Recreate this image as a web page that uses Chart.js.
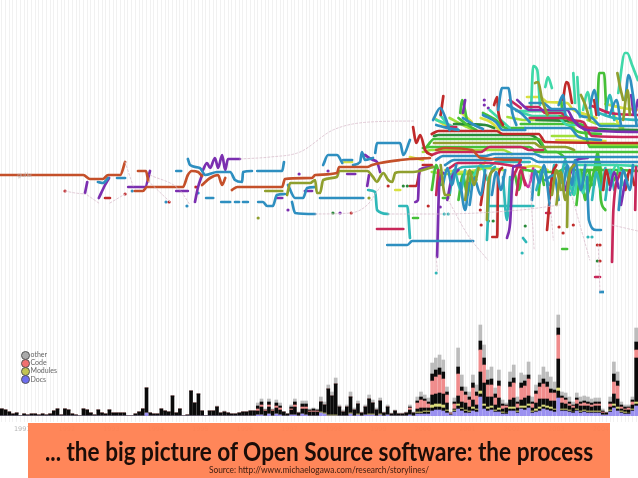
<!DOCTYPE html>
<html>
<head>
<meta charset="utf-8">
<title>Storylines</title>
<script src="https://cdn.jsdelivr.net/npm/chart.js@4"></script>
<style>
  body { margin: 0; background: #fff; width: 638px; height: 478px; overflow: hidden; position: relative; font-family: "Lato", sans-serif; }
  canvas { position: absolute; left: 0; top: 0; }
  #banner { position: absolute; left: 28px; top: 423px; width: 582px; height: 55px; background: rgba(255, 127, 80, 0.95); text-align: center; color: #1c0d08; }
  #banner h1 { position: absolute; left: -60px; right: -60px; top: 13px; margin: 0; font-size: 26px; line-height: 30px; font-weight: 700; white-space: nowrap; transform: scaleX(0.868); }
  #banner p { position: absolute; left: 0; right: 0; top: 39.5px; margin: 0; font-size: 9.5px; line-height: 13px; color: #3a1d12; transform: scaleX(0.88); }
  #legend { position: absolute; left: 21px; top: 350px; font-size: 7px; line-height: 8.2px; color: #666; }
  #legend i { display: inline-block; width: 7px; height: 7px; border-radius: 50%; border: 1px solid #555; margin-right: 0.5px; vertical-align: middle; box-sizing: content-box; }
  #legend div { height: 8.2px; white-space: nowrap; }
</style>
</head>
<body>
<canvas id="grafico" width="638" height="436"></canvas>
<div id="legend"></div>
<div id="banner">
  <h1>... the big picture of Open Source software: the process</h1>
  <p>Source: http://www.michaelogawa.com/research/storylines/</p>
</div>
<script>
// Time axis: decimal years, one bar per month from July 1990
const firstMonth = 1990.5;
const monthCount = 172;
const yearLabels = [1991, 1992, 1993, 1994, 1995, 1996, 1997, 1998, 1999, 2000, 2001, 2002, 2003, 2004];

// Monthly bars, one row per year (1990 has 6 months, 2004 has 10)
const docs = [
  0,0,0,0,0,0,
  0,0,0,0,0,0,0,0,0,0,0,0,
  0,0,0,0,0,0,0,0,0,0,0,0,
  0,0,0,0,0,0,0,0,0,3,0,0,
  0,0,0,0,0,0,0,0,0,0,0,0,
  0,0,0,0,0,0,0,0,0,0,0,0,
  0,0,0,1,1,0,2,0,2,1,0,0,
  1,1,0,2,1,0,0,0,3,2,0,0,
  0,0,0,0,2,0,1,0,1,1,1,0,
  1,0,1,0,0,0,0,0,1,0,2,2,
  2,2,5,6,6,5,3,1,4,7,5,3,
  3,5,4,19,7,5,6,4,4,2,2,5,
  5,3,7,6,8,3,4,5,7,6,5,4,
  18,5,5,4,3,5,3,4,3,3,3,3,
  1,1,4,8,5,3,2,2,5,10
];
const blackLow = [
  0,0,0,0,0,0,
  0,0,0,0,0,0,0,0,0,0,0,0,
  0,0,0,0,0,0,0,0,0,0,0,0,
  0,0,0,0,0,0,0,0,0,0,0,0,
  0,0,0,0,0,0,0,0,0,0,0,0,
  0,0,0,0,0,0,0,0,0,0,0,0,
  0,0,0,0,0,0,0,0,0,0,0,0,
  0,0,0,0,0,0,0,0,0,0,0,0,
  0,0,0,0,0,0,0,0,0,0,0,0,
  0,0,0,0,0,0,0,0,0,0,1,1,
  2,2,3,3,3,3,2,0,1,3,2,2,
  1,2,2,3,3,2,2,1,2,1,1,2,
  2,1,1,2,2,1,1,2,2,2,2,2,
  7,1,1,1,1,1,1,1,1,1,1,1,
  0,0,1,2,2,1,1,1,1,2
];
const modules = [
  0,0,0,0,0,0,
  0,0,0,0,0,0,0,0,0,0,0,0,
  0,0,0,0,0,0,0,0,0,0,0,0,
  0,0,0,0,0,0,0,0,0,0,0,0,
  0,0,0,0,0,0,0,0,0,0,0,0,
  0,0,0,0,0,0,0,0,0,0,0,0,
  0,0,0,0,0,0,0,0,0,0,0,0,
  0,0,0,0,0,0,0,0,1,1,1,1,
  1,0,0,0,1,0,1,0,0,1,1,0,
  1,0,0,0,0,0,0,0,0,0,1,1,
  1,1,3,3,3,3,1,0,1,2,1,1,
  1,2,1,3,2,2,2,1,2,1,0,2,
  2,1,2,2,2,1,2,2,2,2,2,1,
  3,1,1,1,0,1,1,1,1,1,1,1,
  0,0,1,2,2,1,1,0,1,2
];
const blackMid = [
  7,6,4,2,3,0,
  2,1,2,2,1,2,1,2,5,7,1,7,
  6,2,1,0,7,6,3,1,6,3,2,6,
  3,3,3,3,0,0,2,4,7,25,3,2,
  2,7,5,4,20,3,7,0,1,25,13,22,
  5,0,5,5,9,3,4,3,2,2,3,4,
  4,5,5,4,8,5,7,5,6,5,4,2,
  5,8,3,5,6,4,4,4,10,8,26,19,
  31,9,4,9,16,6,10,3,8,15,11,6,
  13,3,8,2,5,2,2,3,5,3,3,4,
  3,3,10,10,11,11,7,1,1,8,6,7,
  4,7,4,19,21,10,9,5,10,3,5,7,
  9,3,6,8,8,3,6,8,6,7,6,8,
  29,6,5,4,4,5,5,4,5,4,5,5,
  2,2,3,10,8,2,2,3,4,44
];
const code = [
  0,0,0,0,0,0,
  0,0,0,0,0,0,0,0,0,0,0,0,
  0,0,0,0,0,0,0,0,0,0,0,0,
  0,0,0,0,0,0,0,0,0,0,0,0,
  0,0,0,0,0,0,0,0,0,0,0,0,
  0,0,0,0,0,0,0,0,0,0,0,0,
  0,0,0,2,2,1,2,1,2,2,0,0,
  1,2,0,2,2,1,1,1,0,0,0,0,
  0,0,0,0,0,0,0,0,0,0,0,0,
  0,0,0,0,0,0,0,0,2,0,6,8,
  7,4,14,17,18,15,8,1,5,22,11,8,
  7,12,9,22,18,12,12,7,12,3,2,13,
  15,4,12,12,17,4,9,12,15,12,8,8,
  24,5,4,2,2,4,2,3,2,2,2,2,
  1,0,3,12,13,2,1,2,3,8
];
const blackTop = [
  0,0,0,0,0,0,
  0,0,0,0,0,0,0,0,0,0,0,0,
  0,0,0,0,0,0,0,0,0,0,0,0,
  0,0,0,0,0,0,0,0,0,0,0,0,
  0,0,0,0,0,0,0,0,0,0,0,0,
  0,0,0,0,0,0,0,0,0,0,0,0,
  0,0,0,3,3,0,3,0,3,2,0,0,
  2,3,0,3,3,1,2,1,0,0,0,0,
  0,0,0,0,0,0,0,0,0,0,0,0,
  0,0,0,0,0,0,0,0,1,0,2,3,
  2,2,7,7,7,7,3,0,2,7,4,3,
  3,5,4,9,7,5,6,4,5,2,1,5,
  5,2,5,5,4,2,3,4,5,5,4,3,
  7,2,2,2,1,2,2,2,2,2,2,2,
  1,0,2,8,5,2,2,1,2,8
];
const other = [
  0,0,0,0,0,0,
  0,0,0,0,0,0,0,0,0,0,0,0,
  0,0,0,0,0,0,0,0,0,0,0,0,
  0,0,0,0,0,0,0,0,0,0,0,0,
  0,0,0,0,0,0,0,0,0,0,0,0,
  0,0,0,0,1,0,1,0,0,0,0,0,
  0,0,0,3,3,1,3,1,3,3,0,0,
  2,3,1,3,3,1,1,1,5,3,4,4,
  6,2,2,2,5,2,3,1,2,4,3,2,
  3,1,2,1,1,1,1,1,2,1,4,5,
  4,4,11,12,13,12,5,1,4,19,12,5,
  5,8,7,16,13,10,12,6,11,4,2,10,
  13,5,10,6,13,5,6,8,12,10,12,8,
  13,4,5,5,3,5,5,5,5,4,4,4,
  2,1,5,12,9,3,2,2,3,14
];
const legendNames = ['other', 'Code', 'Modules', 'Docs'];

// Storylines: each line is year, rank, year, rank...
const orangeLines = [
  [1990.5,175, 1992.37,175, 1992.52,179, 1992.81,179, 1992.93,175, 1993.2,175, 1993.31,162],
  [1993.6,171, 1993.78,171, 1993.83,181],
  [1993.53,191, 1993.71,191, 1993.8,187, 1994.61,187, 1994.72,175, 1994.81,171, 1994.95,172, 1995.04,176],
  [1995.04,185, 1995.22,178, 1995.4,175, 1995.49,185, 1995.56,178],
  [1995.71,190, 1995.83,187, 1996.84,187, 1996.9,179, 1997.51,178, 1997.58,175, 1998.07,173, 1998.12,167, 1998.75,167, 1998.86,165, 1999.04,163, 1999.49,160, 1999.71,159, 2000.16,158],
  [2000.3,150, 2000.5,148, 2001.1,150, 2001.3,158, 2002.2,160]
];
const oliveLines = [
  [1996.46,191, 1996.84,191],
  [1996.95,195, 1997.02,183, 1997.47,183, 1997.58,180, 1997.62,193, 1997.69,193, 1997.76,180, 1998.07,177, 1998.12,171, 1998.75,171, 1998.88,177, 1998.97,182, 1999.04,177, 1999.11,173, 1999.22,180, 1999.31,182, 1999.38,173, 1999.49,172, 1999.78,172, 2000.23,167],
  [2002.52,83, 2002.59,82, 2002.68,100, 2002.8,115],
  [2004.37,73, 2004.43,87, 2004.5,100],
  [2004.5,120, 2004.6,90, 2004.65,115],
  [2000.4,165, 2000.5,195, 2000.6,195],
  [2001.44,220, 2001.47,183, 2001.6,170],
  [2003.24,227, 2003.26,183, 2003.4,165],
  [2000.25,143, 2002.5,143, 2002.65,147, 2003.2,147, 2003.4,150],
  [2000.95,200, 2001.05,170, 2001.15,185, 2001.25,168],
  [2002.9,195, 2003.0,170, 2003.1,190],
  [2003.55,95, 2003.65,105, 2003.75,120],
  [2003.0,205, 2003.1,172, 2003.2,200, 2003.3,175]
];
const blueLines = [
  [1992.7,182, 1992.81,183, 1992.93,178],
  [1993.13,178, 1993.31,178],
  [1994.46,171, 1994.57,171],
  [1994.72,159, 1994.77,165, 1994.99,168, 1995.11,175, 1995.38,172, 1995.67,172, 1995.78,180, 1995.94,182, 1995.96,172, 1996.16,171],
  [1996.28,171, 1996.84,171, 1996.88,162],
  [1995.13,198, 1995.29,198],
  [1995.47,202, 1995.67,202],
  [1995.78,202, 1995.87,202],
  [1995.96,202, 1996.07,202],
  [1996.3,202, 1996.41,202, 1996.5,206, 1996.63,206, 1996.72,195, 1996.9,194],
  [1997.06,202, 1997.13,213, 1997.58,214],
  [1996.97,185, 1997.13,198, 1997.31,198, 1997.4,188, 1997.58,187],
  [1997.76,165, 1997.87,155, 1998.07,155, 1998.19,163],
  [1998.21,160, 1998.41,160],
  [1998.43,165, 1998.59,162, 1998.63,152, 1998.7,160, 1998.88,158],
  [1998.93,153, 1998.97,143, 1999.49,143, 1999.56,155, 1999.71,140],
  [1997.69,198, 1998.66,198],
  [1999.2,245, 1999.65,245, 1999.76,241, 2001.13,241],
  [2001.69,110, 2001.78,88, 2001.92,88, 2002.01,113, 2002.1,125],
  [2000.23,120, 2000.39,108, 2000.5,117, 2000.6,130],
  [2003.15,190, 2003.25,165, 2003.35,185, 2003.42,160, 2003.55,190, 2003.65,165],
  [2002.45,200, 2002.52,170, 2002.62,183, 2002.72,165, 2002.85,205],
  [2002.75,180, 2002.95,175, 2003.05,200],
  [2004.4,210, 2004.5,170, 2004.65,190, 2004.72,165],
  [2001.05,205, 2001.15,178, 2001.3,195, 2001.4,170],
  [2000.84,183, 2000.95,210, 2001.03,183],
  [2003.69,177, 2003.73,220, 2003.9,230, 2004.0,230],
  [2004.55,100, 2004.62,75, 2004.72,95, 2004.8,125],
  [2004.2,115, 2004.35,100, 2004.45,125],
  [2003.05,105, 2003.15,95, 2003.2,115],
  [2000.3,160, 2000.45,156, 2001.4,156, 2001.6,154, 2002.5,154, 2002.7,157, 2004.83,157],
  [2000.5,165, 2000.7,160, 2001.5,160, 2001.65,158, 2002.4,158, 2002.6,162, 2004.83,162],
  [2002.4,103, 2002.7,103, 2002.9,109, 2003.4,109, 2003.55,116, 2003.8,118, 2004,126, 2004.83,126],
  [2001.35,115, 2001.64,122, 2001.8,130, 2002.3,130],
  [2000.3,125, 2000.55,128, 2000.8,130],
  [2000.9,118, 2001.2,126, 2001.35,129],
  [2000.45,185, 2000.55,168, 2000.65,185, 2000.75,165],
  [2001.55,195, 2001.65,172, 2001.75,190, 2001.85,170],
  [2003.75,108, 2003.85,90, 2003.95,115],
  [2002.3,128, 2003.3,128, 2003.5,137, 2004.0,140],
  [2001.9,105, 2002.2,113, 2002.4,122]
];
const purpleLines = [
  [1992.41,193, 1992.46,182],
  [1992.72,198, 1992.86,185, 1992.95,178],
  [1993.38,187, 1993.76,187, 1993.87,171],
  [1994.46,191, 1994.72,191],
  [1994.88,202, 1994.95,187, 1995.04,175],
  [1995.06,170, 1995.15,163, 1995.22,168, 1995.33,158, 1995.4,168, 1995.49,155, 1995.56,170, 1995.62,159, 1995.89,159],
  [1997.35,191, 1997.51,191],
  [1996.72,198, 1996.84,198],
  [1998.7,155, 1998.88,160, 1998.97,162, 1999.04,172],
  [1998.3,174, 1998.48,174],
  [1998.75,186, 1998.79,175],
  [2000.32,257, 2000.37,183, 2000.46,173],
  [2001.89,238, 2001.96,223, 2002.03,167, 2002.2,165],
  [2000.9,113, 2000.95,100],
  [2002.12,100, 2002.41,110, 2003.24,110, 2003.38,120, 2003.69,130, 2004.83,132],
  [2004.68,95, 2004.75,115, 2004.83,100],
  [2003.2,190, 2003.3,175, 2003.45,160, 2003.7,158],
  [1999.83,202, 1999.89,200, 1999.92,170, 2000.23,167],
  [2000.55,200, 2000.65,178, 2000.8,170],
  [2004.2,190, 2004.3,172, 2004.4,188],
  [2004.45,205, 2004.55,180]
];
const redLines = [
  [1992.86,198, 1992.97,198],
  [1999.78,127, 1999.85,143, 1999.94,135, 2000.05,150, 2000.2,155],
  [2000.4,115, 2000.46,96],
  [2001.6,105, 2001.67,97, 2001.69,110, 2001.8,125],
  [2003.15,100, 2003.22,82, 2003.26,83, 2003.35,103],
  [2001.56,237, 2001.67,237, 2001.69,177, 2001.78,168],
  [2002.79,230, 2002.9,177, 2003,165],
  [2000.2,134, 2000.35,131, 2001.65,131, 2001.8,134, 2002.6,134, 2002.75,142, 2004.83,143],
  [2004.05,190, 2004.12,170, 2004.2,185],
  [2001.3,205, 2001.4,175],
  [2003.85,100, 2003.9,115],
  [1999.71,186, 1999.85,186, 1999.94,170, 2000.09,168],
  [2000.0,165, 2000.2,165],
  [2004.55,190, 2004.65,170, 2004.75,185]
];
const crimsonLines = [
  [1998.97,229, 1999.56,229],
  [2004.25,262, 2004.28,210, 2004.43,173],
  [2004.77,210, 2004.79,167],
  [2002.77,213, 2002.86,213],
  [2003.87,277, 2003.98,277],
  [2000.2,155, 2000.4,152, 2001.3,152, 2001.5,147, 2002.2,147, 2002.4,150, 2002.7,150],
  [2000.6,168, 2000.8,163, 2001.5,163, 2002.3,168],
  [2002.3,107, 2002.6,107, 2002.75,113, 2003.1,113, 2003.3,120, 2003.6,122, 2003.8,136, 2004.83,137],
  [2000.3,195, 2000.35,170],
  [2002.0,180, 2002.1,170, 2002.2,160],
  [2002.4,118, 2003.3,118, 2003.55,127, 2003.9,128],
  [2000.5,127, 2000.75,127],
  [2001.95,100, 2002.2,108],
  [2003.8,106, 2004.2,113, 2004.83,115],
  [2002.1,195, 2002.2,170, 2002.3,185]
];
const tealLines = [
  [1998.77,190, 1998.93,192, 1998.97,210, 1999.22,214],
  [1999.47,206, 1999.65,206, 1999.71,238],
  [2001.47,206, 2002.48,206],
  [2001.44,240, 2001.51,177, 2001.62,167],
  [2001.8,177, 2001.89,220, 2001.96,177],
  [2003.1,183, 2003.2,160, 2003.32,195, 2003.45,172],
  [2000.6,195, 2000.7,170, 2000.85,190, 2000.95,170],
  [2000.7,172, 2000.9,167, 2001.5,166, 2001.65,162, 2002.4,162],
  [2002.25,238, 2002.32,242],
  [2002.55,190, 2002.7,170, 2002.85,185, 2002.95,165],
  [2004.1,200, 2004.2,170, 2004.3,190],
  [2004.1,115, 2004.2,95, 2004.3,120],
  [2003.8,200, 2003.9,172, 2004.0,190, 2004.1,168],
  [2003.9,112, 2004.3,118, 2004.83,120]
];
const mintLines = [
  [2002.43,110, 2002.48,66, 2002.57,70, 2002.63,105],
  [2002.75,87, 2002.81,77, 2002.9,88],
  [2003.38,73, 2003.42,103],
  [2003.47,77, 2003.49,93, 2003.53,117],
  [2004.39,93, 2004.54,53, 2004.59,53, 2004.7,65, 2004.83,80],
  [2000.39,115, 2000.62,128],
  [2004.2,180, 2004.35,165, 2004.5,185],
  [2002.2,112, 2002.5,116, 2003.0,116, 2003.25,125, 2003.5,125],
  [2003.5,165, 2003.9,165, 2004.3,165, 2004.83,166],
  [2000.3,120, 2000.6,125, 2000.8,130],
  [2001.5,110, 2001.8,122, 2001.95,128],
  [2001.15,175, 2001.3,165, 2001.45,180],
  [2003.6,110, 2003.7,92, 2003.8,118],
  [2002.1,111, 2003.1,111, 2003.3,120],
  [2003.25,175, 2003.4,195, 2003.5,170, 2003.6,193, 2003.7,175]
];
const greenLines = [
  [2003.92,110, 2003.96,73, 2004.07,73, 2004.12,110],
  [2000.84,113, 2000.88,100, 2000.99,120],
  [2000.8,200, 2000.9,175, 2001.0,195, 2001.1,172, 2001.2,180],
  [2003.7,195, 2003.85,170, 2003.93,152, 2004.0,200, 2004.1,210],
  [2003.85,185, 2003.95,160, 2004.05,190],
  [2000.1,146, 2000.25,139, 2002.6,139, 2002.8,152, 2004.83,152],
  [2000.0,148, 2000.15,147, 2002.4,147, 2002.55,152, 2003,152, 2003.2,158],
  [2001.35,113, 2001.64,120, 2001.87,128, 2002.3,128],
  [2002.3,111, 2002.7,111, 2002.85,116, 2003.2,116, 2003.4,124, 2003.6,125, 2003.75,147, 2004.83,147],
  [1999.78,218, 1999.89,218],
  [2000.45,198, 2000.57,198],
  [2003.13,249, 2003.24,249],
  [2002.6,195, 2002.65,170, 2002.72,185],
  [2000.8,118, 2001.0,125, 2001.2,130],
  [2000.2,190, 2000.3,165, 2000.4,185],
  [2001.95,200, 2002.05,172, 2002.15,190, 2002.25,168],
  [2002.3,170, 2002.7,172, 2003.0,172, 2003.2,168],
  [2003.55,190, 2003.7,170, 2003.8,185],
  [2004.3,180, 2004.45,168, 2004.6,180],
  [2003.1,100, 2003.15,115],
  [2002.2,124, 2003.2,124, 2003.5,132, 2004.0,134],
  [2003.3,170, 2003.9,170, 2004.4,170, 2004.83,171],
  [2003.45,205, 2003.55,170, 2003.65,200, 2003.75,172]
];
const darkGreenLines = [
  [2000.25,136, 2000.35,135, 2002.4,135, 2002.55,138, 2002.7,147],
  [2002.55,120, 2003.4,122, 2003.69,128, 2004.83,130],
  [2000.7,124, 2001.4,125, 2001.6,128]
];
const limeLines = [
  [2000.2,172, 2000.6,174, 2001,174, 2001.4,168, 2001.8,170],
  [2000.0,152, 2000.2,150, 2001.8,150, 2002.0,154],
  [2002.9,136, 2003.5,136, 2003.8,145, 2004.83,145],
  [2001.9,117, 2002.3,120, 2003.2,120, 2003.4,128],
  [2000.6,118, 2000.9,125, 2001.1,129],
  [2003.7,120, 2003.95,124, 2004.3,124, 2004.5,128]
];
const yellowLines = [
  [1999.38,190, 1999.49,190],
  [1998.21,162, 1998.41,162],
  [2002.34,97, 2002.63,97, 2002.79,102, 2003.24,103, 2003.38,110, 2003.69,115],
  [2001.3,118, 2001.52,122, 2001.72,130],
  [2000.5,170, 2000.8,172, 2001.2,170, 2001.4,162],
  [2004.25,110, 2004.45,130],
  [2003.0,140, 2003.6,141, 2004.1,141],
  [1999.71,157, 2000.0,160],
  [2000.25,118, 2000.6,128],
  [2000.85,112, 2001.1,122],
  [2002.2,168, 2002.5,166, 2002.8,170],
  [2003.5,112, 2003.9,118],
  [2004.1,104, 2004.5,108, 2004.83,110]
];
const magentaLines = [
  [2002.25,178, 2002.37,187, 2002.48,168]
];

// Isolated commits shown as dots: year, rank, year, rank...
const redDots = [1991.96,191, 1993.31,194, 1994.3,202, 1994.9,187, 1998.39,213, 1999.22,186, 2000.12,206, 2001.29,210, 2001.31,225, 2003.38,225, 2003.15,233, 2003.06,227, 2003.92,245, 2003.98,245, 2003.98,261];
const purpleDots = [1997.22,174, 1996.97,210, 1997.87,171, 1998.14,213, 2000.39,207, 2001.38,100, 2001.38,105, 2001.47,108];
const blueDots = [1993.47,191, 1994.7,206, 1994.23,202, 1994.95,193];
const tealDots = [2000.3,273, 2000.48,214, 2000.57,214, 2002.23,253, 2003.71,237, 2003.8,237];
const greenDots = [1997.98,213, 1999.56,186, 1999.65,186, 2001.47,221, 2001.58,221, 2002.3,226, 2002.14,187, 2003.92,261];
const oliveDots = [1996.3,218, 1998.79,198];
const blueSegment = [2003.96,292, 2004.07,292];

// Thin dashed links between the pieces of a story
const links = [
  [1995.89,159, 1996.57,157, 1997.24,152, 1997.98,130, 1998.81,122, 1999.83,121],
  [1991.96,191, 1992.19,193, 1992.41,194],
  [1992.46,195, 1992.75,204],
  [1992.97,203, 1993.31,194],
  [1993.31,162, 1993.49,186],
  [1993.83,181, 1994.32,202],
  [1993.87,175, 1994.54,190, 1994.77,205],
  [1997.58,214, 1998.37,213, 1998.75,205, 1999.04,187],
  [1999.22,214, 2000.39,214, 2002.19,210, 2003.08,205],
  [2004.25,225, 2004.54,228, 2004.83,231],
  [2000.3,257, 2000.33,273],
  [2003.94,245, 2003.98,292],
  [2002.86,200, 2002.93,240],
  [2000.57,200, 2001.01,235, 2001.46,260],
  [2002.4,175, 2002.5,250],
  [2003.31,190, 2003.75,260]
];

// Small caption on the first story
const storyNames = ['guile'];
const storyNameYears = [1991.05];
const storyNameRanks = [175];

// Colours
const barColors = { docs: '#9a90f0', modules: '#dcdc78', code: '#f08c8c', other: '#bcbcbc', black: '#0a0a0a' };
const legendColors = ['#aaaaaa', '#f07070', '#c2c454', '#6e6ef0'];
const lineGroups = [
  [links, '#d9bccb', 'link'],
  [orangeLines, '#c4502a'], [oliveLines, '#8f9f2e'], [blueLines, '#2e8fc0'], [purpleLines, '#7b2fb0'],
  [redLines, '#c02a2a'], [crimsonLines, '#c8285a'], [tealLines, '#2fb8b8'], [mintLines, '#3fd8a8'],
  [greenLines, '#46c038'], [darkGreenLines, '#2a8a3a'], [limeLines, '#9fe03a'], [yellowLines, '#d8e040'], [magentaLines, '#d030a0']
];
const dotGroups = [
  [redDots, '#c02a2a'], [purpleDots, '#7b2fb0'], [blueDots, '#2e8fc0'], [tealDots, '#2fb8b8'],
  [greenDots, '#2a8a3a'], [oliveDots, '#8f9f2e']
];

// Turn year, rank, year, rank... into points
function toPoints(flat) {
  const pts = [];
  for (let i = 0; i < flat.length; i += 2) {
    pts.push({ x: flat[i], y: flat[i + 1] });
  }
  return pts;
}

const months = [];
for (let i = 0; i < monthCount; i++) {
  months.push(firstMonth + i / 12);
}

function barSet(values, color, label) {
  return {
    type: 'bar',
    label: label,
    data: values.map((v, i) => ({ x: months[i] + 1 / 24, y: v })),
    yAxisID: 'yCommits',
    stack: 'commits',
    backgroundColor: color,
    barThickness: 3,
    order: 2
  };
}

const datasets = [
  barSet(docs, barColors.docs, 'Docs'),
  barSet(blackLow, barColors.black, ''),
  barSet(modules, barColors.modules, 'Modules'),
  barSet(blackMid, barColors.black, ''),
  barSet(code, barColors.code, 'Code'),
  barSet(blackTop, barColors.black, ''),
  barSet(other, barColors.other, 'other')
];

lineGroups.forEach(function (group) {
  group[0].forEach(function (line) {
    datasets.push({
      type: 'line',
      data: toPoints(line),
      yAxisID: 'yRank',
      borderColor: group[1],
      borderWidth: group[2] ? 0.8 : 2.7,
      borderDash: group[2] ? [2, 2] : [],
      borderCapStyle: 'round',
      cubicInterpolationMode: 'monotone',
      pointRadius: 0,
      order: 1
    });
  });
});

dotGroups.forEach(function (group) {
  datasets.push({
    type: 'line',
    data: toPoints(group[0]),
    yAxisID: 'yRank',
    showLine: false,
    pointRadius: 1.6,
    pointBorderWidth: 0,
    pointBackgroundColor: group[1],
    order: 1
  });
});

datasets.push({
  type: 'line',
  data: toPoints(blueSegment),
  yAxisID: 'yRank',
  borderColor: '#2e8fc0',
  borderWidth: 2.7,
  pointRadius: 0,
  order: 1
});

// Caption drawn on top of the lines
const storyCaptions = {
  id: 'storyCaptions',
  afterDatasetsDraw(chart) {
    const ctx = chart.ctx;
    ctx.save();
    ctx.font = '6px "DejaVu Sans"';
    ctx.textAlign = 'center';
    ctx.textBaseline = 'middle';
    ctx.fillStyle = '#b8aca6';
    storyNames.forEach(function (name, i) {
      ctx.fillText(name, chart.scales.x.getPixelForValue(storyNameYears[i]), chart.scales.yRank.getPixelForValue(storyNameRanks[i]));
    });
    ctx.restore();
  }
};

new Chart(document.getElementById('grafico'), {
  type: 'bar',
  data: { datasets: datasets },
  plugins: [storyCaptions],
  options: {
    responsive: false,
    animation: false,
    events: [],
    layout: { padding: 0, autoPadding: false },
    plugins: { legend: { display: false }, tooltip: { enabled: false } },
    scales: {
      x: {
        type: 'linear',
        min: firstMonth,
        max: firstMonth + monthCount / 12,
        offset: false,
        border: { display: false },
        grid: { color: '#f1f1f1', lineWidth: 1, tickLength: 6, tickColor: '#f1f1f1' },
        afterBuildTicks: function (scale) {
          scale.ticks = months.map(m => ({ value: m }));
        },
        afterFit: function (scale) {
          scale.height = 20;
          scale.paddingLeft = 0;
          scale.paddingRight = 0;
        },
        ticks: {
          autoSkip: false,
          maxRotation: 0,
          minRotation: 0,
          padding: 3,
          color: '#b4b4b4',
          font: { family: '"DejaVu Sans"', size: 6.5 },
          callback: function (value) {
            const y = Math.round(value);
            return Math.abs(value - y) < 0.001 && yearLabels.includes(y) ? String(y) : '';
          }
        }
      },
      yRank: { type: 'linear', axis: 'y', display: false, reverse: true, min: 0, max: 416 },
      yCommits: { type: 'linear', axis: 'y', display: false, stacked: true, min: 0, max: 416 }
    }
  }
});

// Legend, from the same names as the bars
legendNames.forEach(function (name, i) {
  const row = document.createElement('div');
  row.innerHTML = '<i style="background:' + legendColors[i] + '"></i>' + name;
  document.getElementById('legend').appendChild(row);
});
</script>
</body>
</html>
